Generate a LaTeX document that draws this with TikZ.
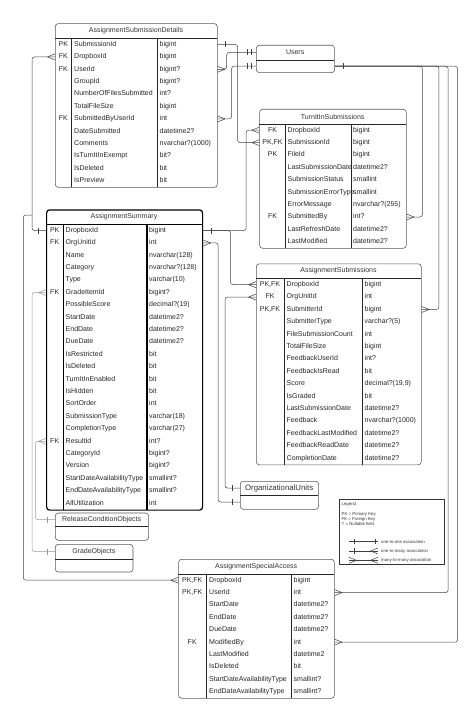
\documentclass[tikz,border=0pt]{standalone}
\usepackage{fontspec}
\setmainfont{Liberation Sans}

\tikzset{
  tbl/.style={draw=black!65, line width=0.6pt, rounded corners=3pt, inner sep=0pt, anchor=north west},
  tblthick/.style={tbl, draw=black, line width=1.2pt},
  sep/.style={draw=black!85, line width=0.6pt},
  septhick/.style={draw=black, line width=1.2pt},
  ttl/.style={font=\fontsize{7}{8}\selectfont, text=black!80, inner sep=0pt},
  keytxt/.style={ttl, text=black!85, text height=5.2pt, text depth=1.5pt},
  fldtxt/.style={keytxt, anchor=west},
  lgdtxt/.style={font=\fontsize{4.3}{5}\selectfont, text=black!80, inner sep=0pt, anchor=west},
  lnk/.style={draw=black!75, line width=0.5pt},
  lnkg/.style={draw=black!40, line width=0.5pt},
  conn/.style={lnk, rounded corners=2.5pt},
  conng/.style={lnkg, rounded corners=2.5pt},
  crow/.pic={\draw[pic actions] (-7.5,0) -- (0,-3) (-7.5,0) -- (0,3);},
  onebar/.pic={\draw[pic actions] (-8,-3) -- (-8,3);},
  twobar/.pic={\draw[pic actions] (-8.5,-3) -- (-8.5,3) (-5,-3) -- (-5,3);},
}

\begin{document}
\begin{tikzpicture}[x=1pt, y=-1pt]
\useasboundingbox (0,0) rectangle (474,714);

% AssignmentSubmissionDetails
\node[tbl, minimum width=162pt, minimum height=163.8pt] (asd) at (55,23.3) {};
\node[ttl] (asd-t) at (136,30.8) {AssignmentSubmissionDetails};
\draw[sep] (55,38.3) -- (217,38.3) (71.7,38.3) -- (71.7,187.1) (157.3,38.3) -- (157.3,187.1);
\foreach \k/\f/\t [count=\i] in {PK/SubmissionId/bigint, FK/DropboxId/bigint, FK/UserId/bigint?,
    /GroupId/bigint?, /NumberOfFilesSubmitted/int?, /TotalFileSize/bigint, FK/SubmittedByUserId/int,
    /DateSubmitted/datetime2?, /Comments/nvarchar?(1000), /IsTurnItInExempt/bit?, /IsDeleted/bit,
    /IsPreview/bit} {
  \node[keytxt] (asd-k\i) at (63.4,{32.1+\i*12.4}) {\k};
  \node[fldtxt] (asd-\i) at (74,{32.1+\i*12.4}) {\f};
  \node[fldtxt] (asd-y\i) at (159.5,{32.1+\i*12.4}) {\t};
}

% Users
\node[tbl, minimum width=78.3pt, minimum height=27.3pt] (users) at (256,45) {};
\node[ttl] (users-t) at (295.15,52.5) {Users};
\draw[sep] (256,60) -- (334.3,60);
\coordinate (users-2) at (295.15,66.2);

% TurnItInSubmissions
\node[tbl, minimum width=146.7pt, minimum height=139pt] (tis) at (259.3,109) {};
\node[ttl] (tis-t) at (332.65,116.5) {TurnItInSubmissions};
\draw[sep] (259.3,124) -- (406,124) (285.7,124) -- (285.7,248) (351,124) -- (351,248);
\foreach \k/\f/\t [count=\i] in {FK/DropboxId/bigint, {PK,FK}/SubmissionId/bigint, PK/FileId/bigint,
    /LastSubmissionDate/datetime2?, /SubmissionStatus/smallint, /SubmissionErrorType/smallint,
    /ErrorMessage/nvarchar?(255), FK/SubmittedBy/int?, /LastRefreshDate/datetime2?,
    /LastModified/datetime2?} {
  \node[keytxt] (tis-k\i) at (272.5,{117.8+\i*12.4}) {\k};
  \node[fldtxt] (tis-\i) at (287.5,{117.8+\i*12.4}) {\f};
  \node[fldtxt] (tis-y\i) at (353,{117.8+\i*12.4}) {\t};
}

% AssignmentSummary
\node[tblthick, minimum width=156pt, minimum height=300.2pt] (as) at (46,209.3) {};
\node[ttl] (as-t) at (124,216.8) {AssignmentSummary};
\draw[septhick] (46,224.3) -- (202,224.3) (63.3,224.3) -- (63.3,509.5) (147,224.3) -- (147,509.5);
\foreach \k/\f/\t [count=\i] in {PK/DropboxId/bigint, FK/OrgUnitId/int, /Name/nvarchar(128),
    /Category/nvarchar?(128), /Type/varchar(10), FK/GradeItemId/bigint?, /PossibleScore/decimal?(19),
    /StartDate/datetime2?, /EndDate/datetime2?, /DueDate/datetime2?, /IsRestricted/bit,
    /IsDeleted/bit, /TurnItInEnabled/bit, /IsHidden/bit, /SortOrder/int,
    /SubmissionType/varchar(18), /CompletionType/varchar(27), FK/ResultId/int?,
    /CategoryId/bigint?, /Version/bigint?, /StartDateAvailabilityType/smallint?,
    /EndDateAvailabilityType/smallint?, /AllUtilization/int} {
  \node[keytxt] (as-k\i) at (54.7,{218.1+\i*12.4}) {\k};
  \node[fldtxt] (as-\i) at (65.5,{218.1+\i*12.4}) {\f};
  \node[fldtxt] (as-y\i) at (149,{218.1+\i*12.4}) {\t};
}

% AssignmentSubmissions
\node[tbl, minimum width=165pt, minimum height=201pt] (asub) at (256,263.5) {};
\node[ttl] (asub-t) at (338.5,271) {AssignmentSubmissions};
\draw[sep] (256,278.5) -- (421,278.5) (284,278.5) -- (284,464.5) (362.7,278.5) -- (362.7,464.5);
\foreach \k/\f/\t [count=\i] in {{PK,FK}/DropboxId/bigint, FK/OrgUnitId/int,
    {PK,FK}/SubmitterId/bigint, /SubmitterType/varchar?(5), /FileSubmissionCount/int,
    /TotalFileSize/bigint, /FeedbackUserId/int?, /FeedbackIsRead/bit, /Score/{decimal?(19,9)},
    /IsGraded/bit, /LastSubmissionDate/datetime2?, /Feedback/nvarchar?(1000),
    /FeedbackLastModified/datetime2?, /FeedbackReadDate/datetime2?, /CompletionDate/datetime2?} {
  \node[keytxt] (asub-k\i) at (270,{272.3+\i*12.4}) {\k};
  \node[fldtxt] (asub-\i) at (286.5,{272.3+\i*12.4}) {\f};
  \node[fldtxt] (asub-y\i) at (364.5,{272.3+\i*12.4}) {\t};
}

% OrganizationalUnits
\node[tbl, minimum width=78.3pt, minimum height=28pt] (ou) at (240,481) {};
\node[ttl, font=\fontsize{7.8}{9}\selectfont] (ou-t) at (279.15,488) {OrganizationalUnits};
\draw[sep] (240,495) -- (318.3,495);
\coordinate (ou-2) at (279.15,502);

% ReleaseConditionObjects
\node[tbl, minimum width=93.3pt, minimum height=27.3pt] (rco) at (55,512.7) {};
\node[ttl] (rco-t) at (101.65,519.7) {ReleaseConditionObjects};
\draw[sep] (55,526.7) -- (148.3,526.7);

% GradeObjects
\node[tbl, minimum width=77.7pt, minimum height=27.7pt] (go) at (55,544) {};
\node[ttl] (go-t) at (93.85,551.65) {GradeObjects};
\draw[sep] (55,559.3) -- (132.7,559.3);

% AssignmentSpecialAccess
\node[tbl, minimum width=155.7pt, minimum height=139pt] (asa) at (178.3,559) {};
\node[ttl] (asa-t) at (256.15,566.5) {AssignmentSpecialAccess};
\draw[sep] (178.3,574) -- (334,574) (206,574) -- (206,698) (291.7,574) -- (291.7,698);
\foreach \k/\f/\t [count=\i] in {{PK,FK}/DropboxId/bigint, {PK,FK}/UserId/int, /StartDate/datetime2?,
    /EndDate/datetime2?, /DueDate/datetime2?, FK/ModifiedBy/int, /LastModified/datetime2,
    /IsDeleted/bit, /StartDateAvailabilityType/smallint?, /EndDateAvailabilityType/smallint?} {
  \node[keytxt] (asa-k\i) at (192.2,{567.8+\i*12.4}) {\k};
  \node[fldtxt] (asa-\i) at (209,{567.8+\i*12.4}) {\f};
  \node[fldtxt] (asa-y\i) at (293.5,{567.8+\i*12.4}) {\t};
}

% left side relations
\draw[conn] (asd.west |- asd-2) -- ++(-23,0) |- (as.west |- as-1);
\draw[conn] (32,215) -- (23.3,215) |- (asa.west |- asa-1);
\draw[conng] (as.west |- as-6) -- ++(-14,0) |- (go.west |- go-t);
\draw[conng] (as.west |- as-18) -- ++(-10.5,0) |- (rco.west |- rco-t);
\pic[lnk] at (asd.west |- asd-2) {crow};
\pic[lnk] at (as.west |- as-1) {onebar};
\pic[lnk] at (asa.west |- asa-1) {crow};
\pic[lnkg] at (as.west |- as-6) {crow};
\pic[lnkg] at (as.west |- as-18) {crow};
\pic[lnkg] at (go.west |- go-t) {onebar};
\pic[lnkg] at (rco.west |- rco-t) {onebar};

% middle relations
\draw[conn] (asd.east |- asd-1) -- ++(20,0) |- (tis.west |- tis-2);
\draw[conn] (asd.east |- asd-3) -- ++(9,0) |- (users.west |- users-t);
\draw[conn] (asd.east |- asd-7) -- ++(14,0) |- (users.west |- users-2);
\draw[conn] (as.east |- as-1) -- ++(43,0) |- (tis.west |- tis-1);
\draw[conn] (as.east |- as-1) -- ++(27.3,0) |- (asub.west |- asub-1);
\draw[conn] (as.east |- as-2) -- ++(15,0) |- (ou.west |- ou-2);
\draw[conn] (asub.west |- asub-2) -- ++(-31,0) |- (ou.west |- ou-t);
\pic[lnk, xscale=-1] at (asd.east |- asd-1) {onebar};
\pic[lnk, xscale=-1] at (asd.east |- asd-3) {crow};
\pic[lnk, xscale=-1] at (asd.east |- asd-7) {crow};
\pic[lnk] at (users.west |- users-t) {twobar};
\pic[lnk] at (users.west |- users-2) {twobar};
\pic[lnk] at (tis.west |- tis-1) {crow};
\pic[lnk] at (tis.west |- tis-2) {crow};
\pic[lnk, xscale=-1] at (as.east |- as-1) {onebar};
\pic[lnk, xscale=-1] at (as.east |- as-2) {crow};
\pic[lnk] at (asub.west |- asub-1) {crow};
\pic[lnk] at (asub.west |- asub-2) {crow};
\pic[lnk] at (ou.west |- ou-t) {onebar};
\pic[lnk] at (ou.west |- ou-2) {onebar};

% right side relations
\draw[conn] (users.east |- users-2) -- ++(87.4,0) |- (tis.east |- tis-8);
\draw[conn] (users.east |- users-2) -- ++(104,0) |- (asub.east |- asub-3);
\draw[conn] (users.east |- users-2) -- ++(113.2,0) |- (asa.east |- asa-2);
\draw[conn] (users.east |- users-2) -- ++(122.7,0) |- (asa.east |- asa-6);
\pic[lnk, xscale=-1] at (users.east |- users-2) {onebar};
\pic[lnk, xscale=-1] at (tis.east |- tis-8) {crow};
\pic[lnk, xscale=-1] at (asub.east |- asub-3) {crow};
\pic[lnk, xscale=-1] at (asa.east |- asa-2) {crow};
\pic[lnk, xscale=-1] at (asa.east |- asa-6) {crow};

% Legend
\node[tbl, rounded corners=0pt, draw=black!80, minimum width=105pt, minimum height=65pt] (legend) at (339,499) {};
\node[lgdtxt] (lgd-t) at (341.5,504.5) {Legend};
\node[lgdtxt] (lgd-pk) at (341.5,514.5) {PK = Primary Key};
\node[lgdtxt] (lgd-fk) at (341.5,519) {FK = Foreign Key};
\node[lgdtxt] (lgd-nf) at (341.5,523.5) {? = Nullable field};
\node[lgdtxt] (lgd-11) at (381,541.7) {one-to-one association};
\node[lgdtxt] (lgd-1n) at (381,551) {one-to-many association};
\node[lgdtxt] (lgd-nn) at (381,560.3) {many-to-many association};
\coordinate (l11a) at (349,541.7);
\coordinate (l1na) at (349,551);
\coordinate (lnna) at (349,560.3);
\draw[lnk] (l11a) -- ++(29,0) (l1na) -- ++(29,0) (lnna) -- ++(29,0);
\draw[lnk] (354.3,539) -- (354.3,544.4) (375,539) -- (375,544.4) (354.3,548.3) -- (354.3,553.7);
\pic[lnk] at (378,551) {crow};
\pic[lnk, xscale=-1] at (lnna) {crow};
\pic[lnk] at (378,560.3) {crow};
\end{tikzpicture}
\end{document}
